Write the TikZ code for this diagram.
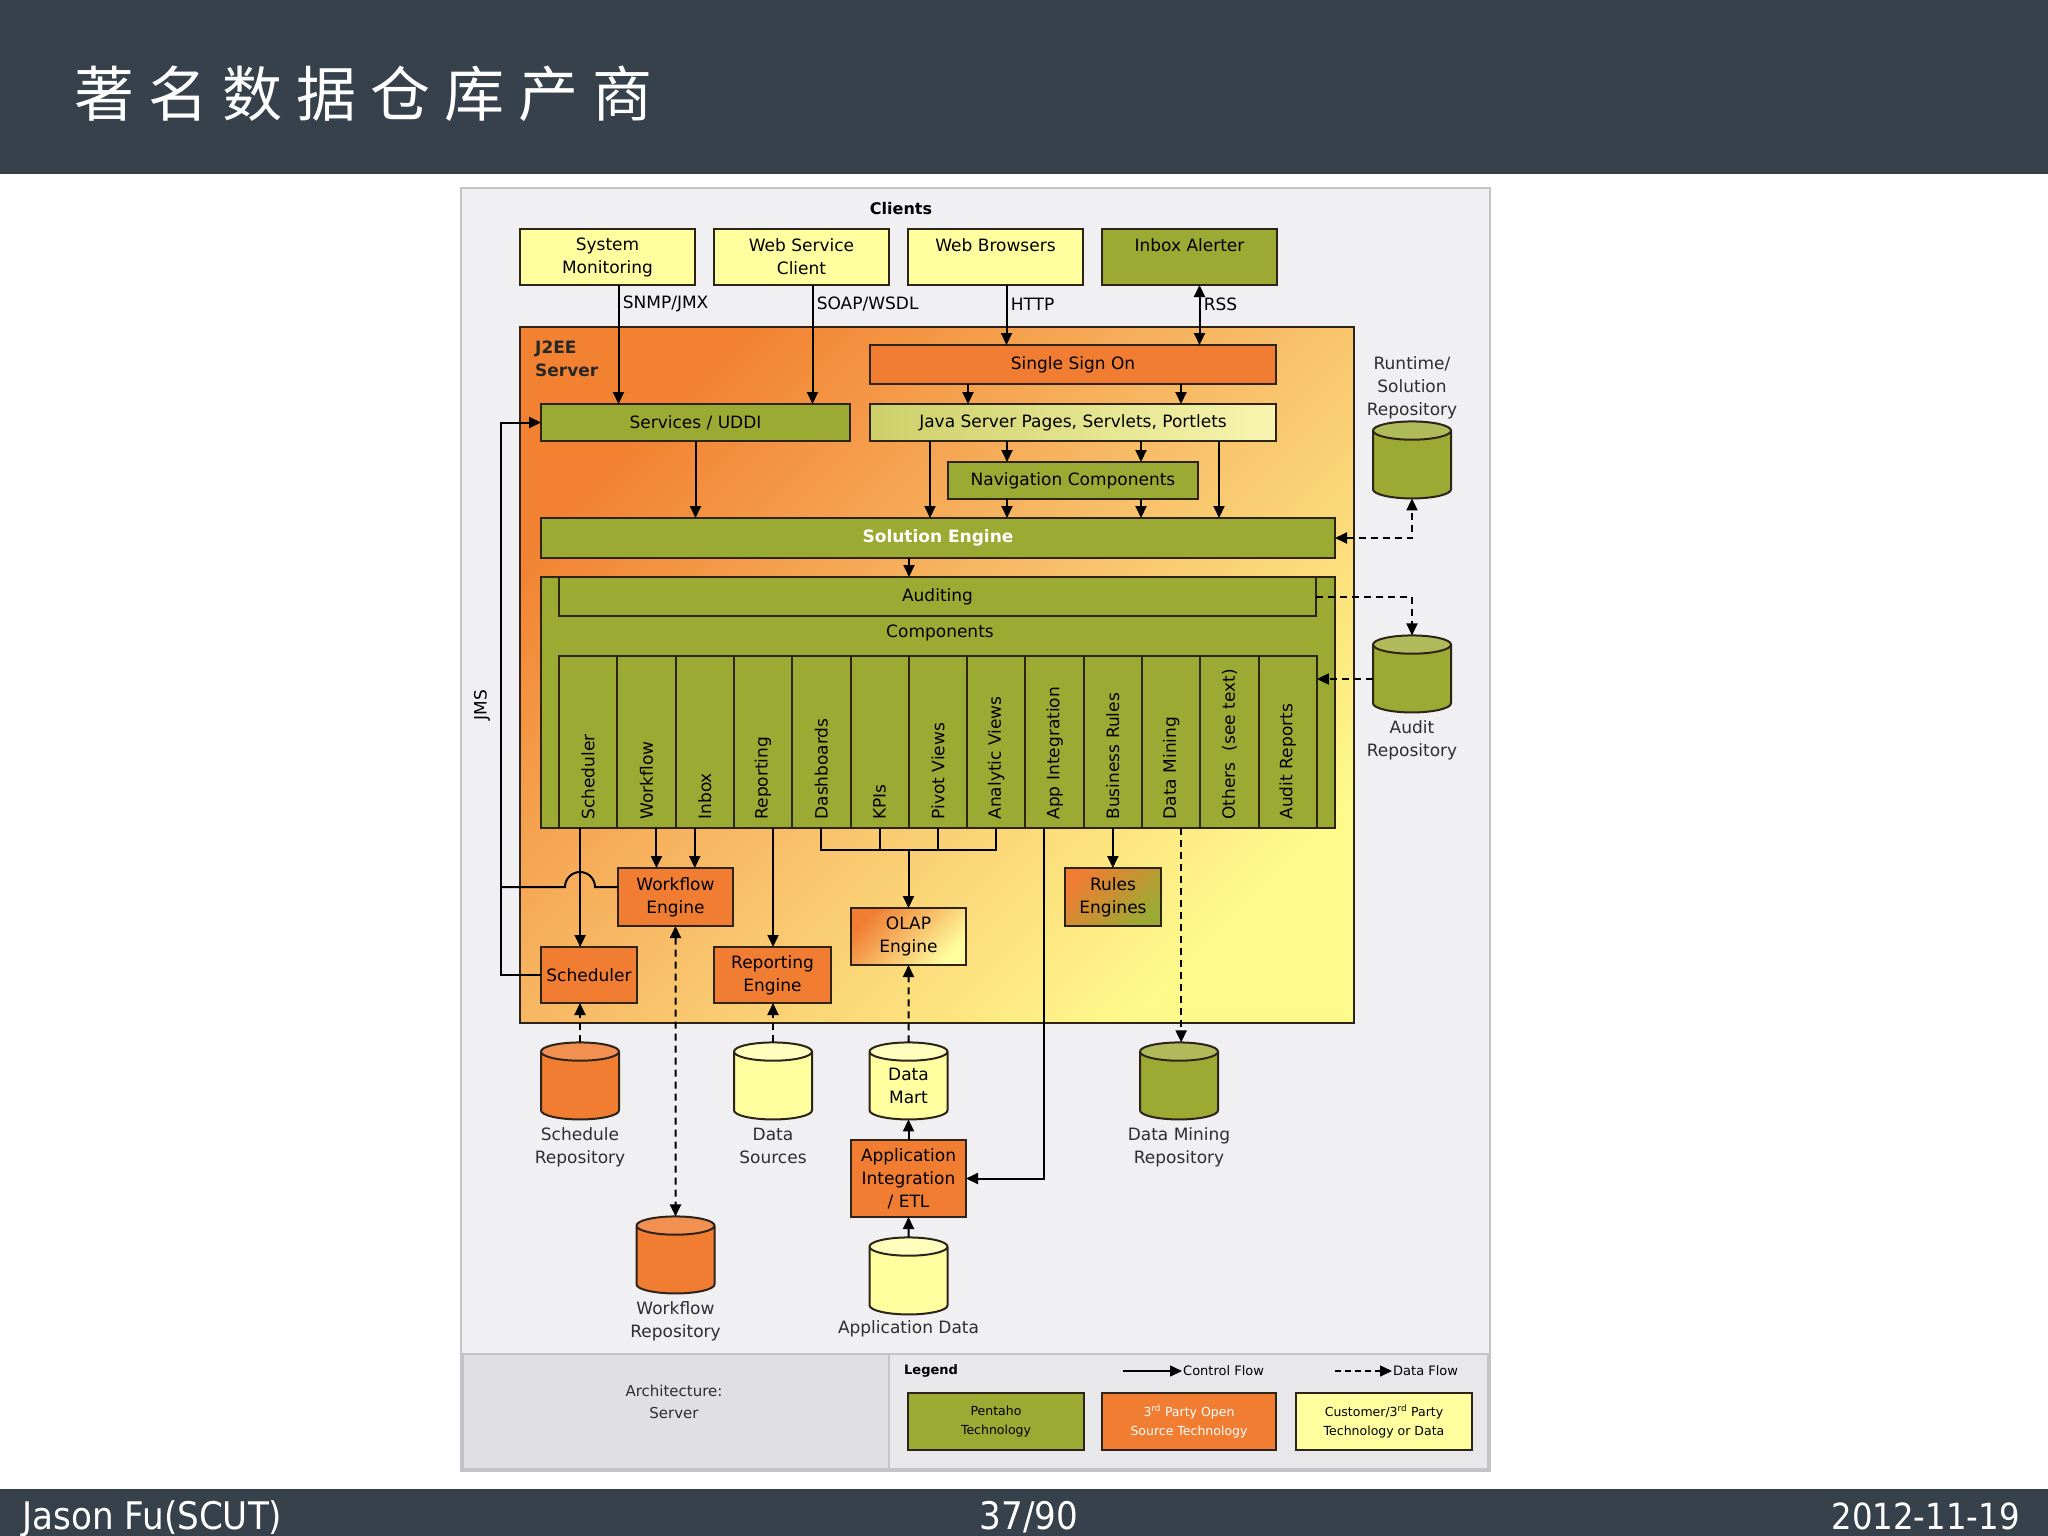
\documentclass[tikz,border=0pt]{standalone}
\usepackage{fontspec}
\usepackage{xcolor}
\usepackage{tikz}
\setmainfont{DejaVu Sans}
\newfontfamily\cjkfont{Noto Sans CJK SC}
\newfontfamily\footfont[FakeStretch=0.9]{DejaVu Sans}
\usetikzlibrary{shapes.geometric,arrows.meta,positioning}

\definecolor{headbar}{RGB}{55,65,75}
\definecolor{panelbg}{RGB}{240,240,243}
\definecolor{panelline}{RGB}{195,195,200}
\definecolor{archbg}{RGB}{224,224,227}
\definecolor{legbg}{RGB}{232,232,235}
\definecolor{pgreen}{RGB}{155,170,50}
\definecolor{porange}{RGB}{240,125,50}
\definecolor{pyellow}{RGB}{255,255,160}
\definecolor{j2eeorange}{RGB}{242,130,50}
\definecolor{j2eemid}{RGB}{248,190,105}
\definecolor{j2eeyellow}{RGB}{255,250,140}
\definecolor{jspleft}{RGB}{205,208,105}
\definecolor{jspright}{RGB}{248,245,175}
\definecolor{boxline}{RGB}{45,35,25}
\definecolor{lbltext}{RGB}{45,45,50}

\newcommand{\diagfont}{\fontsize{17}{23}\selectfont}
\newcommand{\legendfont}{\fontsize{12.5}{19}\selectfont}
\newcommand{\emptyrepo}{\phantom{Data}\\\phantom{Mart}}

\tikzset{
  pentaho/.style={draw=boxline, line width=2pt, fill=pgreen, inner sep=0pt, outer sep=0pt, align=center},
  thirdparty/.style={pentaho, fill=porange},
  customer/.style={pentaho, fill=pyellow},
  compcol/.style={pentaho, rotate=90, anchor=north west, minimum width=172pt, minimum height=58.3pt, text width=155pt, align=left, inner xsep=8pt},
  repo/.style={cylinder, shape border rotate=90, aspect=0.45, draw=boxline, line width=2pt, minimum width=78pt, minimum height=77pt, inner sep=0pt, outer sep=0pt, align=center, cylinder uses custom fill},
  greenrepo/.style={repo, cylinder body fill=pgreen, cylinder end fill=pgreen!80!white},
  orangerepo/.style={repo, cylinder body fill=porange, cylinder end fill=porange!85!white},
  yellowrepo/.style={repo, cylinder body fill=pyellow, cylinder end fill=pyellow!70!white},
  repolabel/.style={align=center, inner sep=0pt, text=lbltext},
  ctrl/.style={line width=2pt, ->},
  data/.style={line width=2pt, dash pattern=on 7pt off 5pt, ->},
  plain/.style={line width=2pt}
}

\begin{document}
\begin{tikzpicture}[x=1pt, y=-1pt, font=\diagfont, >={Triangle[length=12pt,width=11pt]}]
    \useasboundingbox (0,0) rectangle (2048,1536);
    % slide
    \fill[white] (0,0) rectangle (2048,1536);
    \fill[headbar] (0,0) rectangle (2048,174);
    \fill[headbar] (0,1489) rectangle (2048,1536);
    \node[anchor=west, inner sep=0pt, text=white, font=\cjkfont\fontsize{60}{60}\selectfont] (title) at (74,94)
        {著\hspace{14pt}名\hspace{14pt}数\hspace{14pt}据\hspace{14pt}仓\hspace{14pt}库\hspace{14pt}产\hspace{14pt}商};
    \node[anchor=base west, inner sep=0pt, text=white, font=\footfont\fontsize{38}{38}\selectfont] (author) at (22,1529) {Jason Fu(SCUT)};
    \node[anchor=base, inner sep=0pt, text=white, font=\footfont\fontsize{38}{38}\selectfont] (pageno) at (1029,1529) {37/90};
    \node[anchor=base east, inner sep=0pt, text=white, font=\footfont\fontsize{36}{36}\selectfont] (date) at (2020,1529) {2012-11-19};

    % diagram panels
    \draw[fill=panelbg, draw=panelline, line width=2pt] (461,188) rectangle (1490,1471);
    \draw[fill=archbg, draw=panelline, line width=1.5pt] (463,1354) rectangle (889,1469);
    \draw[fill=legbg, draw=panelline, line width=1.5pt] (889,1354) rectangle (1488,1469);
    \node[align=center, font=\fontsize{15}{22}\selectfont, text=lbltext] (arch) at (674,1402) {Architecture:\\Server};

    % clients
    \node[font=\fontsize{16}{20}\selectfont\bfseries] (clients) at (901,209) {Clients};
    \node[customer, minimum width=175pt, minimum height=56pt, anchor=north west] (sysmon) at (520,229) {System\\Monitoring};
    \node[customer, minimum width=175pt, minimum height=56pt, anchor=north west] (wsclient) at (714,229) {Web Service\\Client};
    \node[customer, minimum width=175pt, minimum height=56pt, anchor=north west] (browsers) at (908,229) {Web Browsers\\\mbox{}};
    \node[pentaho, minimum width=175pt, minimum height=56pt, anchor=north west] (alerter) at (1102,229) {Inbox Alerter\\\mbox{}};

    % J2EE server
    \node[draw=boxline, line width=2pt, inner sep=0pt, outer sep=0pt, minimum width=834pt, minimum height=696pt, anchor=north west,
          top color=j2eeorange, bottom color=j2eeyellow, middle color=j2eemid, shading angle=45] (j2ee) at (520,327) {};
    \node[anchor=north west, inner sep=0pt, align=left, font=\diagfont\bfseries, text=black!85] (j2eename) at (535,341) {J2EE\\Server};

    \node[thirdparty, minimum width=406pt, minimum height=39pt, anchor=north west] (sso) at (870,345) {Single Sign On};
    \node[pentaho, minimum width=309pt, minimum height=37pt, anchor=north west] (services) at (541,404) {Services / UDDI};
    \node[pentaho, left color=jspleft, right color=jspright, minimum width=406pt, minimum height=37pt, anchor=north west] (jsp) at (870,404) {Java Server Pages, Servlets, Portlets};
    \node[pentaho, minimum width=250pt, minimum height=37pt, anchor=north west] (nav) at (948,462) {Navigation Components};
    \node[pentaho, minimum width=794pt, minimum height=40pt, anchor=north west, text=white, font=\diagfont\bfseries] (engine) at (541,518) {Solution Engine};

    % components
    \node[pentaho, minimum width=794pt, minimum height=251pt, anchor=north west] (components) at (541,577) {};
    \node[pentaho, minimum width=757pt, minimum height=39pt, anchor=north west] (auditing) at (559,577) {Auditing};
    \node (compname) at (940,633) {Components};
    \node[compcol] (c1) at (559,828) {Scheduler};
    \node[compcol] (c2) at (617.3,828) {Workflow};
    \node[compcol] (c3) at (675.6,828) {Inbox};
    \node[compcol] (c4) at (733.9,828) {Reporting};
    \node[compcol] (c5) at (792.2,828) {Dashboards};
    \node[compcol] (c6) at (850.5,828) {KPIs};
    \node[compcol] (c7) at (908.8,828) {Pivot Views};
    \node[compcol] (c8) at (967.1,828) {Analytic Views};
    \node[compcol] (c9) at (1025.4,828) {App Integration};
    \node[compcol] (c10) at (1083.7,828) {Business Rules};
    \node[compcol] (c11) at (1142,828) {Data Mining};
    \node[compcol] (c12) at (1200.3,828) {Others~~(see text)};
    \node[compcol] (c13) at (1258.6,828) {Audit Reports};

    % engines
    \node[thirdparty, minimum width=115pt, minimum height=58pt, anchor=north west] (wfengine) at (618,868) {Workflow\\Engine};
    \node[thirdparty, minimum width=96pt, minimum height=56pt, anchor=north west] (scheduler) at (541,947) {Scheduler};
    \node[thirdparty, minimum width=117pt, minimum height=56pt, anchor=north west] (reporting) at (714,947) {Reporting\\Engine};
    \node[thirdparty, top color=porange, bottom color=pyellow, shading angle=45, minimum width=115pt, minimum height=57pt, anchor=north west] (olap) at (851,908) {OLAP\\Engine};
    \node[thirdparty, top color=porange, bottom color=pgreen, shading angle=45, minimum width=96pt, minimum height=58pt, anchor=north west] (rules) at (1065,868) {Rules\\Engines};
    \node[thirdparty, minimum width=115pt, minimum height=77pt, anchor=north west] (etl) at (851,1140) {Application\\Integration\\/ ETL};

    % repositories
    \node[greenrepo] (runtimerepo) at (1412,465) {\emptyrepo};
    \node[repolabel, above=2pt of runtimerepo] (runtimelbl) {Runtime/\\Solution\\Repository};
    \node[greenrepo] (auditrepo) at (1412,679) {\emptyrepo};
    \node[repolabel, below=8pt of auditrepo] (auditlbl) {Audit\\Repository};
    \node[orangerepo] (schedrepo) at (580,1086) {\emptyrepo};
    \node[repolabel, below=8pt of schedrepo] (schedlbl) {Schedule\\Repository};
    \node[yellowrepo] (sources) at (773,1086) {\emptyrepo};
    \node[repolabel, below=8pt of sources] (sourceslbl) {Data\\Sources};
    \node[yellowrepo] (datamart) at (908.5,1086) {Data\\Mart};
    \node[greenrepo] (dmrepo) at (1179,1086) {\emptyrepo};
    \node[repolabel, below=8pt of dmrepo] (dmlbl) {Data Mining\\Repository};
    \node[orangerepo] (wfrepo) at (675.5,1260) {\emptyrepo};
    \node[repolabel, below=8pt of wfrepo] (wflbl) {Workflow\\Repository};
    \node[yellowrepo] (appdata) at (908.5,1281) {\emptyrepo};
    \node[repolabel, below=6pt of appdata] (appdatalbl) {Application Data};

    % clients to server
    \draw[ctrl] ([xshift=11pt]sysmon.south) -- ([xshift=11pt]sysmon.south |- services.north) node[pos=0.16, right] (snmp) {SNMP/JMX};
    \draw[ctrl] ([xshift=11pt]wsclient.south) -- ([xshift=11pt]wsclient.south |- services.north) node[pos=0.16, right] (soap) {SOAP/WSDL};
    \draw[ctrl] ([xshift=11pt]browsers.south) -- ([xshift=11pt]browsers.south |- sso.north) node[pos=0.32, right] (http) {HTTP};
    \draw[ctrl, <->] ([xshift=10pt]alerter.south) -- ([xshift=10pt]alerter.south |- sso.north) node[pos=0.32, right] (rss) {RSS};

    % presentation layer
    \draw[ctrl] ([xshift=-105pt]sso.south) -- ([xshift=-105pt]jsp.north);
    \draw[ctrl] ([xshift=108pt]sso.south) -- ([xshift=108pt]jsp.north);
    \draw[ctrl] ([xshift=-66pt]jsp.south) -- ([xshift=-66pt]nav.north);
    \draw[ctrl] ([xshift=68pt]jsp.south) -- ([xshift=68pt]nav.north);
    \draw[ctrl] (services.south) -- (services.south |- engine.north);
    \draw[ctrl] ([xshift=-143pt]jsp.south) -- ([xshift=-143pt]jsp.south |- engine.north);
    \draw[ctrl] ([xshift=146pt]jsp.south) -- ([xshift=146pt]jsp.south |- engine.north);
    \draw[ctrl] ([xshift=-66pt]nav.south) -- ([xshift=-66pt]nav.south |- engine.north);
    \draw[ctrl] ([xshift=68pt]nav.south) -- ([xshift=68pt]nav.south |- engine.north);
    \draw[ctrl] ([xshift=-29pt]engine.south) -- ([xshift=-29pt]engine.south |- auditing.north);

    % runtime and audit repositories
    \draw[data, <->] (engine.east) -| (runtimerepo.south);
    \draw[data] (auditing.east) -| (auditrepo.north);
    \draw[data] (auditrepo.west) -- (auditrepo.west -| c13.south);

    % JMS
    \coordinate (jmsbus) at (501,700);
    \coordinate (jmshop) at (501,887);
    \draw[ctrl] (scheduler.west) -| (jmsbus) |- (services.west);
    \draw[plain] (jmshop) -- ++(64,0) arc[start angle=180, end angle=0, radius=15pt] -- ([yshift=10pt]wfengine.west);
    \node[rotate=90] (jms) at (482,705) {JMS};

    % components to engines
    \draw[ctrl] ([xshift=-8pt]c1.west) -- ([xshift=-8pt]c1.west |- scheduler.north);
    \draw[ctrl] ([xshift=10pt]c2.west) -- ([xshift=10pt]c2.west |- wfengine.north);
    \draw[ctrl] ([xshift=-10pt]c3.west) -- ([xshift=-10pt]c3.west |- wfengine.north);
    \draw[ctrl] ([xshift=10pt]c4.west) -- ([xshift=10pt]c4.west |- reporting.north);
    \coordinate (olapjoin) at (908.5,850);
    \draw[plain] (c5.west) |- (olapjoin) -| (c8.west);
    \draw[plain] (c6.west) -- (c6.west |- olapjoin);
    \draw[plain] (c7.west) -- (c7.west |- olapjoin);
    \draw[ctrl] (olapjoin) -- (olap.north);
    \draw[ctrl] ([xshift=-11pt]c9.west) |- (etl.east);
    \draw[ctrl] (c10.west) -- (c10.west |- rules.north);
    \draw[data] ([xshift=10pt]c11.west) -- ([xshift=10pt]c11.west |- dmrepo.north);

    % data stores
    \draw[data] (schedrepo.north) -- (schedrepo.north |- scheduler.south);
    \draw[data, <->] (wfengine.south) -- (wfrepo.north);
    \draw[data] (sources.north) -- (sources.north |- reporting.south);
    \draw[data] (datamart.north) -- (olap.south);
    \draw[ctrl] (etl.north) -- (datamart.south);
    \draw[ctrl] (appdata.north) -- (etl.south);

    % legend
    \node[anchor=west, inner sep=0pt, font=\fontsize{13}{16}\selectfont\bfseries] (legend) at (904,1371) {Legend};
    \coordinate (ctrlstart) at (1123,1371);
    \node[anchor=west, inner sep=1pt, font=\fontsize{13}{16}\selectfont] (ctrlname) at (1182,1371) {Control Flow};
    \draw[line width=1.5pt, ->] (ctrlstart) -- (ctrlname.west);
    \coordinate (datastart) at (1335,1371);
    \node[anchor=west, inner sep=1pt, font=\fontsize{13}{16}\selectfont] (dataname) at (1392,1371) {Data Flow};
    \draw[line width=1.5pt, dash pattern=on 6pt off 4pt, ->] (datastart) -- (dataname.west);
    \node[pentaho, font=\legendfont, minimum width=176pt, minimum height=57pt, anchor=north west] (legpentaho) at (908,1393) {Pentaho\\Technology};
    \node[thirdparty, font=\legendfont, text=white, minimum width=174pt, minimum height=57pt, anchor=north west] (legthird) at (1102,1393) {3\textsuperscript{rd} Party Open\\Source Technology};
    \node[customer, font=\legendfont, minimum width=176pt, minimum height=57pt, anchor=north west] (legcustomer) at (1296,1393) {Customer/3\textsuperscript{rd} Party\\Technology or Data};

\end{tikzpicture}
\end{document}
